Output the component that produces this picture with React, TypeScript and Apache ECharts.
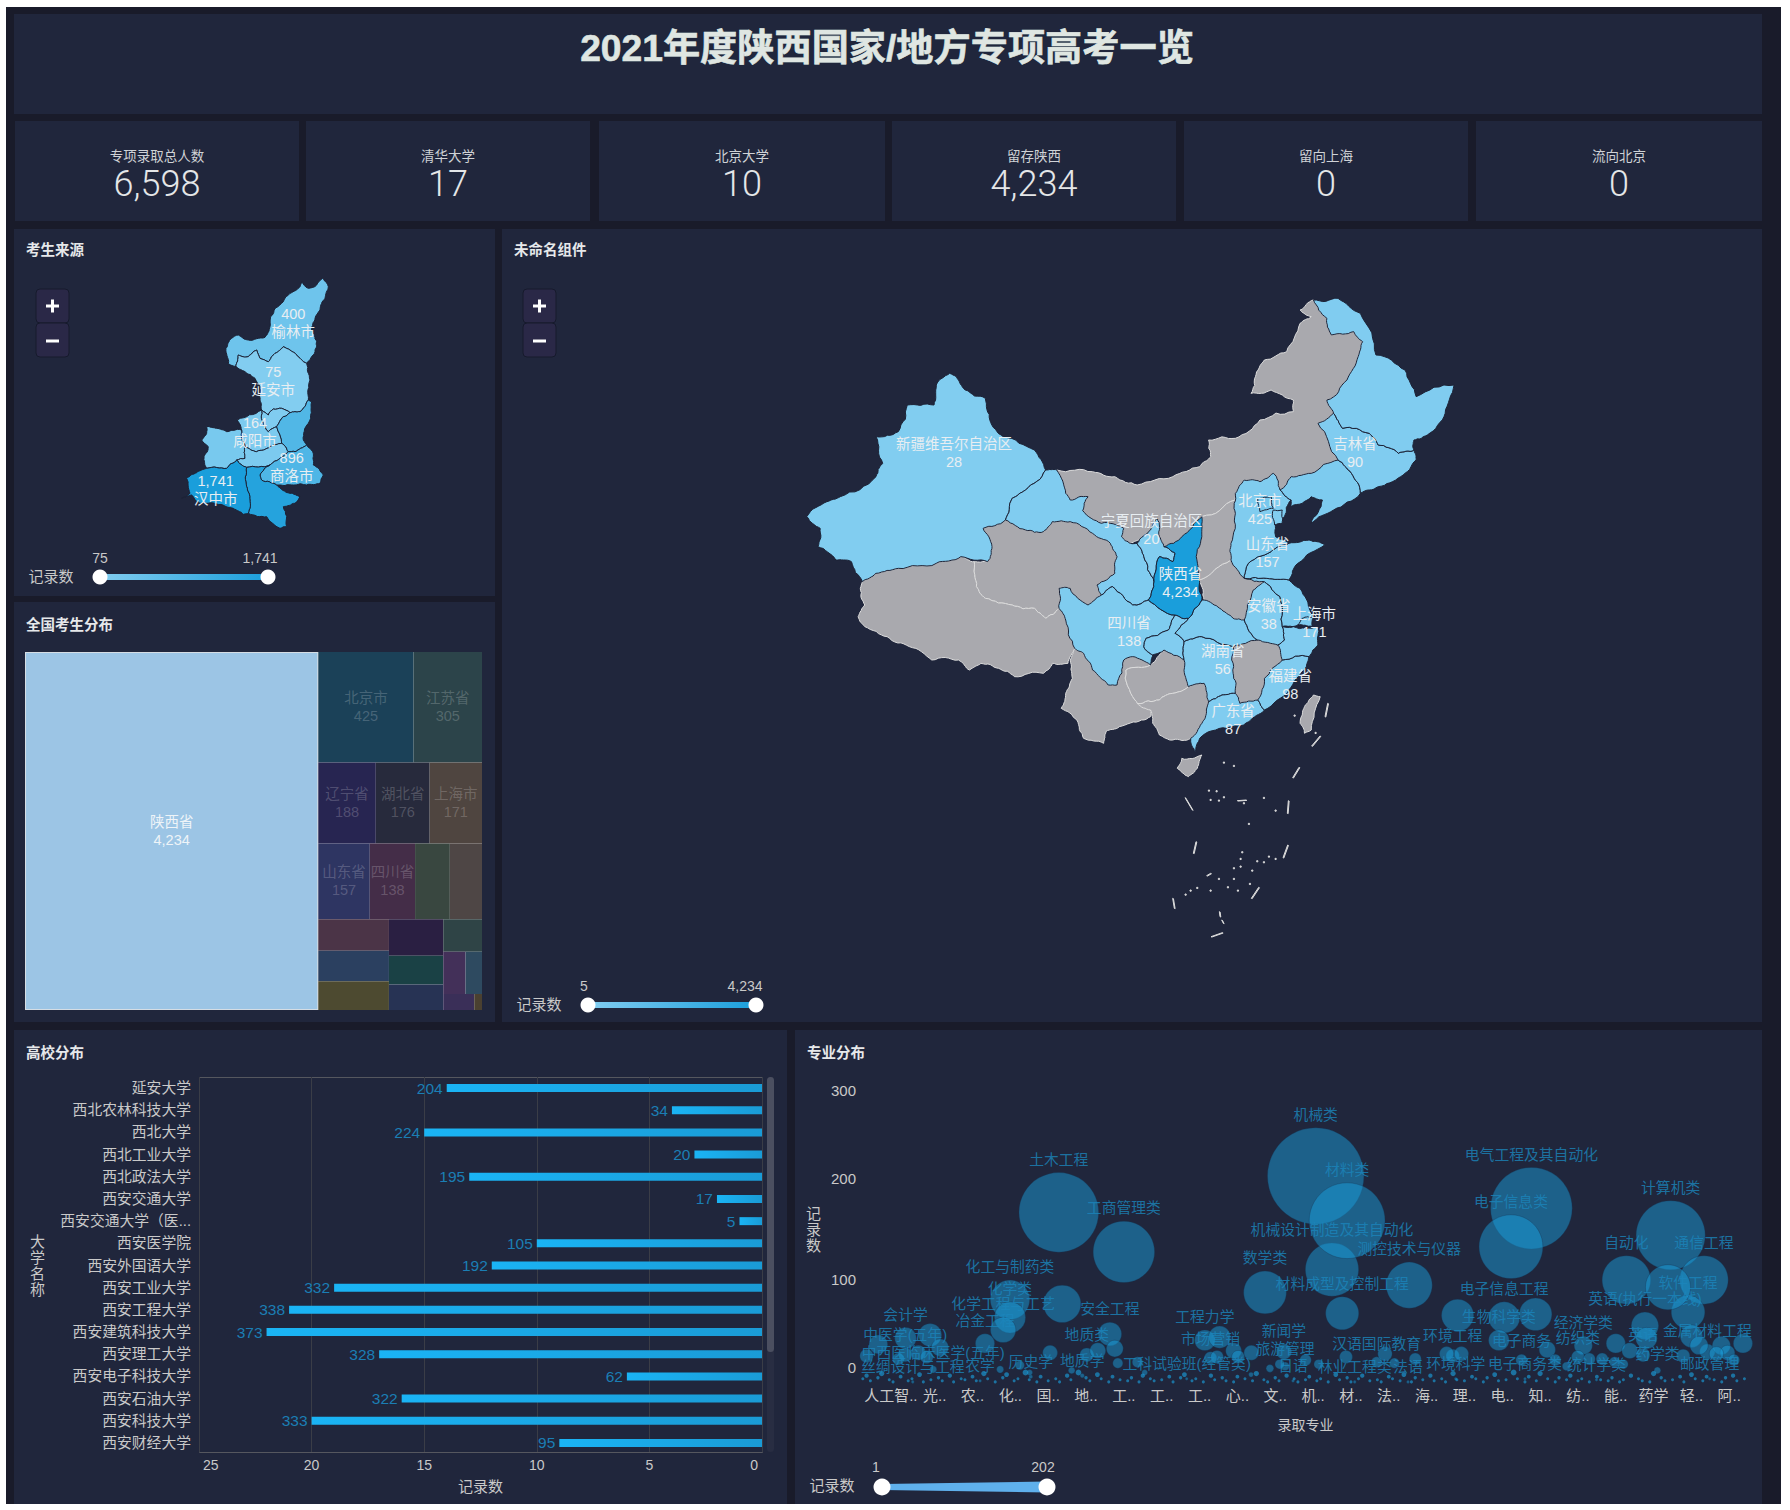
import React, { useEffect, useRef } from "react";
import * as echarts from "echarts";

const FONT = '"Liberation Sans","Noto Sans CJK SC",sans-serif';
const PANEL = "#20263c";
const DARK = "#191b2a";

const statLabels = ["专项录取总人数", "清华大学", "北京大学", "留存陕西", "留向上海", "流向北京"];
const statValues = ["6,598", "17", "10", "4,234", "0", "0"];

const universities = ["延安大学", "西北农林科技大学", "西北大学", "西北工业大学", "西北政法大学", "西安交通大学", "西安交通大学（医...", "西安医学院", "西安外国语大学", "西安工业大学", "西安工程大学", "西安建筑科技大学", "西安理工大学", "西安电子科技大学", "西安石油大学", "西安科技大学", "西安财经大学"];
const uniBars = [14, 4, 15, 3, 13, 2, 1, 10, 12, 19, 21, 22, 17, 6, 16, 20, 9];
const uniLabels = [204, 34, 224, 20, 195, 17, 5, 105, 192, 332, 338, 373, 328, 62, 322, 333, 95];

const treeNames = ["陕西省", "北京市", "江苏省", "辽宁省", "湖北省", "上海市", "山东省", "四川省", "河北省", "福建省", "吉林省", "广东省", "黑龙江省", "甘肃省", "重庆市", "湖南省", "浙江省", "安徽省", "新疆维吾尔自治区", "宁夏回族自治区", "天津市"];
const treeValues = [4234, 425, 305, 188, 176, 171, 157, 138, 106, 98, 90, 87, 82, 80, 63, 56, 51, 38, 28, 20, 5];
const treeColors = ["#9cc5e5", "#1b4158", "#2c444a", "#272551", "#272a3c", "#4f4540", "#2e3562", "#442d48", "#394740", "#4e4645", "#4b3447", "#2b4060", "#4d4a30", "#2a1f42", "#1a4145", "#273354", "#2f4446", "#433059", "#2e4a60", "#3a2f58", "#4a4030"];
const treeLabelled = 8;

const chinaValues: [string, number][] = [["陕西", 4234], ["北京", 425], ["江苏", 305], ["辽宁", 188], ["湖北", 176], ["上海", 171], ["山东", 157], ["四川", 138], ["河北", 106], ["福建", 98], ["吉林", 90], ["广东", 87], ["黑龙江", 82], ["甘肃", 80], ["重庆", 63], ["湖南", 56], ["浙江", 51], ["安徽", 38], ["新疆", 28], ["宁夏", 20], ["天津", 5]];
const chinaLabels: Record<string, [string, number, number]> = {
  新疆: ["新疆维吾尔自治区", 390, 520], 吉林: ["吉林省", 1288, 520], 北京: ["北京市", 1075, 690], 宁夏: ["宁夏回族自治区", 832, 750],
  山东: ["山东省", 1092, 820], 陕西: ["陕西省", 897, 910], 安徽: ["安徽省", 1095, 1005], 上海: ["上海市", 1197, 1030],
  四川: ["四川省", 782, 1055], 湖南: ["湖南省", 992, 1140], 福建: ["福建省", 1143, 1215], 广东: ["广东省", 1015, 1320],
};

const shaanxiValues: [string, number][] = [["榆林市", 400], ["延安市", 75], ["铜川市", 110], ["咸阳市", 164], ["宝鸡市", 230], ["西安市", 170], ["渭南市", 860], ["商洛市", 896], ["安康市", 1560], ["汉中市", 1741]];
const shaanxiLabels: Record<string, [number, number]> = { 榆林市: [880, 278], 延安市: [820, 453], 咸阳市: [765, 605], 商洛市: [875, 710], 汉中市: [647, 780] };

// outlines (crop pixel units)
const shaanxiRings: Record<string, number[]> = {
  榆林市: [905,155,925,175,950,165,968,145,985,170,975,205,960,240,945,265,935,300,950,335,945,365,920,400,890,375,870,360,850,350,825,370,805,395,780,385,770,360,745,380,715,375,708,410,685,400,678,355,695,325,715,315,745,330,795,322,810,290,812,260,850,215,870,190,900,170],
  延安市: [708,410,715,375,745,380,770,360,780,385,805,395,825,370,850,350,870,360,890,375,920,400,930,450,925,510,900,545,870,548,845,535,820,537,805,555,785,540,780,510,780,470,765,445,735,425],
  铜川市: [785,540,805,555,820,537,845,535,870,548,850,560,830,590,805,605,790,580],
  咸阳市: [712,570,785,540,790,580,805,605,830,590,840,615,845,640,810,650,770,665,735,650,725,600],
  宝鸡市: [620,590,650,595,680,605,712,598,725,600,735,650,735,685,710,690,680,715,620,715,612,680,625,650,605,630,620,610],
  西安市: [735,685,735,650,770,665,810,650,845,640,865,665,840,685,810,705,740,712,710,690],
  渭南市: [935,515,925,580,910,630,920,645,885,665,865,665,845,640,840,615,830,590,850,560,870,548,900,545,925,510],
  商洛市: [865,665,885,665,920,645,938,665,940,705,970,735,960,760,920,765,880,765,830,765,785,750,780,735,810,705,840,685],
  安康市: [740,712,810,705,780,735,785,750,830,765,870,790,900,800,885,820,850,830,860,890,840,895,800,860,745,850,750,810,740,770],
  汉中市: [620,715,680,715,710,690,740,712,740,770,750,810,745,850,730,853,700,835,650,822,600,820,575,795,545,805,570,790,560,745,590,728],
};

const chinaGrey: Record<string, number[]> = {
  内蒙古: [620,570,700,575,750,590,800,615,880,590,940,560,965,530,960,480,1020,475,1075,420,1150,395,1150,360,1100,330,1055,340,1065,290,1085,240,1135,215,1165,130,1190,110,1165,90,1195,60,1225,115,1235,165,1285,155,1305,185,1295,230,1270,300,1225,360,1240,400,1205,430,1250,540,1190,580,1145,590,1120,630,1105,580,1075,605,1040,600,1020,640,1020,660,945,710,900,770,860,800,850,770,845,715,830,750,810,780,785,790,765,770,770,745,720,730,678,692,690,650,650,660,640,640],
  青海: [455,745,505,720,550,750,590,755,610,725,650,725,700,760,740,790,755,830,750,880,710,915,720,945,690,975,650,925,625,925,625,985,595,1015,570,985,520,975,460,955,440,920,435,845,465,845,475,800],
  西藏: [185,905,215,880,265,865,350,850,405,830,435,845,440,920,460,955,520,975,570,985,595,1015,625,985,640,1020,660,1105,665,1105,645,1150,610,1150,590,1180,525,1190,490,1165,450,1150,425,1170,400,1140,340,1140,290,1100,240,1070,190,1040,175,1010,190,975,180,925],
  云南: [660,1105,680,1120,700,1170,735,1215,755,1215,770,1140,790,1130,830,1155,775,1170,795,1260,830,1290,830,1310,810,1320,760,1340,730,1355,725,1390,680,1375,665,1320,630,1285,640,1240,655,1195,650,1140],
  贵州: [775,1170,830,1155,860,1110,905,1140,910,1200,915,1220,880,1240,850,1260,800,1270,795,1260],
  广西: [800,1270,850,1260,880,1240,915,1220,950,1210,960,1265,955,1290,945,1330,920,1375,880,1380,850,1365,835,1330,830,1290],
  江西: [1015,1100,1070,1080,1115,1095,1125,1140,1085,1195,1070,1260,1030,1270,1020,1240,1015,1180],
  河南: [940,900,1010,840,1040,895,1085,905,1060,930,1040,1020,1015,1015,985,985,950,960],
  山西: [945,710,1020,660,1020,700,1010,790,1010,840,940,900,935,850,945,770],
  海南: [890,1465,900,1435,945,1425,935,1465,915,1490],
  台湾: [1195,1245,1210,1250,1190,1350,1175,1360,1165,1330,1175,1280],
};
const chinaBlue: Record<string, number[]> = {
  新疆: [60,710,105,665,135,650,215,590,230,550,215,470,265,455,285,375,345,375,350,315,380,280,395,290,415,330,460,355,470,420,500,470,570,510,595,570,550,630,520,655,505,720,455,745,475,800,465,845,405,830,350,850,265,865,215,880,185,905,160,845,125,840,85,800,90,745],
  甘肃: [595,570,620,570,640,640,650,660,690,650,678,692,720,730,770,745,765,770,785,790,800,790,815,830,838,905,825,960,790,975,745,920,720,945,710,915,750,880,755,830,740,790,700,760,650,725,610,725,590,755,550,750,505,720,520,655,550,630],
  四川: [625,925,650,925,690,975,720,945,745,920,790,975,825,960,885,1005,870,1050,820,1075,815,1100,835,1125,830,1155,790,1130,770,1140,755,1215,735,1215,700,1170,680,1120,660,1105,640,1020,625,985],
  重庆: [885,1005,915,1015,885,1060,905,1085,905,1140,860,1110,835,1125,815,1100,820,1075,870,1050],
  湖南: [905,1085,945,1070,1015,1100,1015,1180,1020,1240,990,1245,960,1265,950,1210,915,1220,910,1200,905,1140],
  湖北: [915,1015,945,960,950,960,985,985,1015,1015,1040,1020,1070,1080,1015,1100,945,1070,905,1085,885,1060],
  广东: [960,1265,990,1245,1020,1240,1030,1270,1070,1260,1085,1290,1050,1325,1000,1345,940,1375,930,1415,920,1385,920,1375,945,1330,955,1290],
  福建: [1125,1140,1185,1130,1175,1170,1140,1230,1085,1290,1070,1260,1085,1195],
  浙江: [1125,1040,1150,1040,1205,1040,1205,1095,1185,1130,1125,1140,1115,1095,1130,1080],
  安徽: [1060,930,1085,905,1120,950,1125,1040,1130,1080,1115,1095,1070,1080,1040,1020],
  江苏: [1040,895,1090,895,1140,900,1180,960,1195,1010,1160,1035,1125,1040,1120,950,1085,905],
  上海: [1170,1015,1195,1012,1192,1040,1160,1035],
  山东: [1045,860,1100,815,1140,790,1185,780,1220,795,1160,850,1140,900,1090,895,1040,895],
  河北: [1020,640,1040,600,1075,605,1105,580,1120,630,1145,660,1130,710,1110,730,1110,770,1140,790,1100,815,1045,860,1040,895,1010,840,1010,790,1020,700],
  北京: [1070,655,1100,650,1105,685,1075,695],
  天津: [1105,690,1125,690,1125,730,1108,735],
  宁夏: [800,790,830,750,845,715,850,770,860,800,885,820,880,845,850,830,838,905,815,830],
  陕西: [945,710,945,770,935,850,940,900,945,960,915,1015,885,1005,825,960,838,905,850,830,880,845,885,820,860,800,900,770],
  辽宁: [1145,590,1190,580,1250,540,1280,580,1300,640,1240,690,1190,730,1215,660,1190,650,1145,680,1145,660,1120,630],
  吉林: [1205,430,1240,400,1260,445,1320,460,1340,495,1385,520,1420,510,1425,540,1390,590,1340,620,1300,640,1280,580,1250,540],
  黑龙江: [1195,60,1250,55,1300,100,1335,225,1400,270,1425,350,1510,315,1490,400,1450,465,1420,480,1420,510,1385,520,1340,495,1320,460,1260,445,1240,400,1225,360,1270,300,1295,230,1305,185,1285,155,1235,165,1225,115],
};
const seaDashes = [983,190,975,230, 960,288,935,318, 897,382,878,413, 865,482,862,520, 863,615,849,653, 776,742,754,775, 667,878,633,890, 518,775,523,805, 588,605,580,640, 555,473,577,510, 620,707,632,700, 658,815,660,830, 665,840,670,850, 712,482,738,480];
const seaIslets = [670,366,700,376,625,450,648,452,630,478,655,480,670,470,730,488,790,472,825,510,745,550,725,635,720,655,720,678,700,683,755,690,770,662,790,665,805,648,825,655,655,715,700,715,590,742,570,750,555,762,630,750,682,740,712,750,748,730,882,225,945,277];

const xTickLabels = ["人工智..", "光..", "农..", "化..", "国..", "地..", "工..", "工..", "工..", "心..", "文..", "机..", "材..", "法..", "海..", "理..", "电..", "知..", "纺..", "能..", "药学", "轻..", "阿.."];
const yTickPos = [17, 101, 199, 283];
const yTickText = ["0", "100", "200", "300"];

const majors: [string, number, number][] = [
  ["土木工程", 52.8, 166], ["工商管理类", 70, 128], ["化工与制药类", 39.9, 82], ["化学类", 39.9, 65], ["化学工程与工艺", 38.1, 53], ["冶金工程", 33.3, 40], ["", 53.7, 78], ["安全工程", 66.3, 49], ["地质类", 60.2, 29], ["", 63.1, 33], ["", 67.6, 35], ["", 68.4, 21], ["地质学", 59, 9], ["历史学", 45.4, 8], ["", 50.5, 31], ["", 42.5, 19], ["", 37.3, 15], ["工程力学", 91.4, 43], ["", 95.3, 46], ["市场营销", 92.9, 26], ["", 94.6, 27], ["", 99, 33], ["", 100.2, 27], ["", 103.7, 31], ["数学类", 107.3, 89],
  ["机械设计制造及其自动化", 125, 111], ["机械类", 120.7, 201], ["材料类", 129, 158], ["测控技术与仪器", 145.4, 96], ["材料成型及控制工程", 127.7, 69], ["电气工程及其自动化", 177.7, 170], ["电子信息类", 172.3, 133], ["计算机类", 214.5, 144], ["自动化", 202.8, 101], ["通信工程", 223.3, 101], ["软件工程", 219.1, 70], ["英语(执行一本线)", 207.7, 57], ["", 213.8, 94], ["电子信息工程", 170.5, 65], ["生物科学类", 169.1, 43], ["", 178.8, 68], ["", 158.2, 67], ["环境工程", 156.9, 28], ["", 159.2, 30], ["", 155.3, 30], ["电子商务", 175.1, 24], ["", 181.9, 34], ["经济学类", 191.4, 38], ["纺织类", 190, 27], ["", 200, 40], ["", 203.7, 33], ["英语", 207.2, 29], ["", 208.1, 45], ["金属材料工程", 224.2, 32], ["", 220, 47], ["", 222, 38], ["", 227.9, 38], ["", 229.5, 31], ["", 233.6, 40], ["", 226.6, 30], ["", 231.2, 24],
  ["药学类", 211, 14], ["", 217.8, 28], ["邮政管理", 224.8, 6], ["统计学类", 194.9, 5], ["", 193, 25], ["", 196.4, 25], ["", 199.7, 22], ["", 202, 20], ["环境科学", 157.7, 6], ["电子商务类", 176, 6], ["", 184, 24], ["", 187, 18], ["林业工程类", 131, 3], ["法语", 145.1, 3], ["汉语国际教育", 136.8, 22], ["", 128.7, 27], ["", 139, 30], ["", 141.5, 21], ["", 147, 25], ["", 121.5, 20], ["", 118, 24], ["新闻学", 112.3, 32], ["旅游管理", 112.6, 18], ["日语", 114.7, 4], ["工科试验班(经管类)", 86.6, 6], ["", 73.6, 22], ["", 108.6, 16], ["", 111.2, 20], ["", 103.6, 10],
  ["会计学", 12.3, 45], ["", 18.8, 48], ["", 5.1, 39], ["", 21.4, 36], ["", 15.7, 31], ["", 10.4, 25], ["", 2, 28], ["", 17.9, 27], ["中医学(五年)", 12.2, 29], ["中西医临床医学(五年)", 19.6, 15], ["丝绸设计与工程", 14.2, 3], ["农学", 32, 4], ["", 75.5, 12], ["", 56.2, 14], ["", 45.1, 12],
];
const tinyDots: [number, number][] = [
  [1,6],[2,9],[3,4],[5,7],[6,11],[8,5],[9,3],[11,8],[13,4],[14,6],[16,10],[17,3],[19,5],[21,7],[22,4],[24,9],[25,3],[27,6],[28,5],[30,8],[31,4],[33,11],[34,6],[36,3],[38,7],[39,10],[41,4],[42,6],[44,12],[45,5],[47,3],[48,8],[50,4],[52,6],[53,3],[55,9],[56,5],[58,12],[60,7],[61,4],[63,10],[64,6],[66,3],[67,8],[69,5],[71,4],[72,7],[74,3],[75,9],[77,6],[78,4],[80,5],[82,8],[83,3],[85,7],[86,10],[88,4],[89,6],[91,3],[93,9],[94,5],[96,7],[97,4],[99,3],[100,8],[102,6],[104,4],[105,11],[107,5],[108,3],[110,7],[111,4],[113,9],[115,6],[116,3],[118,5],[119,8],[121,4],[122,6],[124,3],[126,10],[127,5],[129,7],[130,3],[132,6],[133,9],[135,4],[137,5],[138,3],[140,8],[141,6],[143,4],[144,10],[146,3],[147,7],[149,5],[151,9],[152,4],[154,6],[155,3],[157,11],[158,5],[160,4],[162,8],[163,6],[165,3],[166,7],[168,10],[169,4],[171,5],[173,12],[174,6],[176,3],[177,8],[179,4],[180,11],[182,6],[184,3],[185,7],[187,5],[188,9],[190,4],[191,6],[193,3],[195,8],[196,5],[198,4],[199,7],[201,3],[202,5],[204,9],[206,6],[207,4],[209,3],[210,11],[212,7],[213,4],[215,5],[217,8],[218,3],[220,10],[221,6],[223,4],[224,8],[226,5],[228,3],[229,7],[231,9],[232,4],[234,6],
];

// helpers
const p4 = (x: number, y: number) => [780 + x / 2.24, 280 + y / 3];
const p5 = (x: number, y: number) => [1000 + x / 3, 640 + y / 3];
const p2 = (x: number, y: number) => [x / 3, 230 + y / 3];
const wiggle = (a: number) => {
  const s = Math.sin(a * 12.9898) * 43758.5453;
  return s - Math.floor(s) - 0.5;
};
const edgeDetail = (a: number[], b: number[], depth: number): number[][] => {
  const len = Math.hypot(b[0] - a[0], b[1] - a[1]);
  if (depth === 0 || len < 2.5) return [];
  const k = wiggle(a[0] * 3.1 + a[1] * 7.7 + b[0] * 5.3 + b[1] * 2.9) * 0.2;
  const m = [(a[0] + b[0]) / 2 - ((b[1] - a[1]) * k), (a[1] + b[1]) / 2 + ((b[0] - a[0]) * k)];
  return [...edgeDetail(a, m, depth - 1), m, ...edgeDetail(m, b, depth - 1)];
};
const ring = (flat: number[], f: (x: number, y: number) => number[]) => {
  const pts: number[][] = [];
  for (let i = 0; i + 1 < flat.length; i += 2) pts.push(f(flat[i], flat[i + 1]));
  const out: number[][] = [];
  pts.forEach((a, i) => {
    const b = pts[(i + 1) % pts.length];
    const swap = a[0] > b[0] || (a[0] === b[0] && a[1] > b[1]);
    const detail = swap ? edgeDetail(b, a, 3).reverse() : edgeDetail(a, b, 3);
    out.push(a, ...detail);
  });
  out.push(out[0]);
  return out;
};
const feature = (name: string, rings: number[][][], cp?: number[]) => ({
  type: "Feature",
  properties: { name, ...(cp ? { cp } : {}) },
  geometry: { type: "MultiPolygon", coordinates: rings.map((r) => [r]) },
});
const bbox = (features: any[]) => {
  let a = 1e9, b = 1e9, c = -1e9, d = -1e9;
  features.forEach((f) => f.geometry.coordinates.forEach((poly: number[][][]) => poly[0].forEach(([x, y]) => {
    a = Math.min(a, x); b = Math.min(b, y); c = Math.max(c, x); d = Math.max(d, y);
  })));
  return { left: a, top: b, width: c - a, height: d - b };
};
const seaRings = () => {
  const rings: number[][][] = [];
  for (let i = 0; i < seaDashes.length; i += 4) {
    const [x1, y1] = p5(seaDashes[i], seaDashes[i + 1]);
    const [x2, y2] = p5(seaDashes[i + 2], seaDashes[i + 3]);
    rings.push([[x1, y1], [x2, y2], [x2 + 0.8, y2 + 0.4], [x1 + 0.8, y1 + 0.4], [x1, y1]]);
  }
  for (let i = 0; i < seaIslets.length; i += 2) {
    const [x, y] = p5(seaIslets[i], seaIslets[i + 1]);
    rings.push([[x, y], [x + 1.2, y], [x + 1.2, y + 1.2], [x, y + 1.2], [x, y]]);
  }
  return rings;
};

const txt = (text: string, x: number, y: number, font: string, fill: string, align = "center", extra: any = {}) => ({
  type: "text",
  style: { text, x, y, font, fill, textAlign: align, textVerticalAlign: "middle", ...extra },
});
const rect = (x: number, y: number, w: number, h: number, fill: string, r = 0, stroke?: string) => ({
  type: "rect",
  shape: { x, y, width: w, height: h, r },
  style: { fill, stroke, lineWidth: stroke ? 1 : 0 },
});
const F14 = `14px ${FONT}`;
const F15 = `15px ${FONT}`;
const zoomCtl = (x: number) => [
  rect(x, 289, 33, 34, "#2a2847", 4, "#161a2c"),
  rect(x, 323, 33, 34, "#2a2847", 4, "#161a2c"),
  rect(x + 10, 304.5, 13, 3, "#fff"), rect(x + 15, 299.5, 3, 13, "#fff"),
  rect(x + 10, 339.5, 13, 3, "#fff"),
];
const legend = (nameX: number, lo: string, hi: string, x1: number, x2: number, y: number, labelY: number, hiX: number, loX: number) => [
  txt("记录数", nameX, y - 1, F15, "#c9c9c9"),
  txt(lo, loX, labelY, F14, "#c9c9c9"),
  txt(hi, hiX, labelY, F14, "#c9c9c9"),
  { type: "rect", shape: { x: x1, y: y - 3, width: x2 - x1, height: 6 }, style: { fill: new echarts.graphic.LinearGradient(0, 0, 1, 0, [{ offset: 0, color: "#82cdf0" }, { offset: 1, color: "#1a9edb" }]) } },
  { type: "circle", shape: { cx: x1, cy: y, r: 7.5 }, style: { fill: "#fff" } },
  { type: "circle", shape: { cx: x2, cy: y, r: 7.5 }, style: { fill: "#fff" } },
];

export default function App() {
  const ref = useRef<HTMLDivElement>(null);
  useEffect(() => {
    document.body.style.margin = "0";
    document.body.style.background = "#fff";
    const chinaFeatures = [
      ...Object.entries(chinaGrey).map(([n, r]) => feature(n, [ring(r, p4)])),
      feature("南海诸岛", seaRings()),
      ...Object.entries(chinaBlue).map(([n, r]) => feature(n, [ring(r, p4)], chinaLabels[n] ? p4(chinaLabels[n][1], chinaLabels[n][2]) : undefined)),
    ];
    const shaanxiFeatures = Object.entries(shaanxiRings).map(([n, r]) => feature(n, [ring(r, p2)], shaanxiLabels[n] ? p2(shaanxiLabels[n][0], shaanxiLabels[n][1]) : undefined));
    echarts.registerMap("chinaTraced", { type: "FeatureCollection", features: chinaFeatures } as any);
    echarts.registerMap("shaanxiTraced", { type: "FeatureCollection", features: shaanxiFeatures } as any);
    const identity = { project: (p: number[]) => p, unproject: (p: number[]) => p };

    const chart = echarts.init(ref.current!, null, { renderer: "svg" });
    const statX = [15, 306, 599, 892, 1184, 1476];
    const statW = [284, 284, 286, 284, 284, 286];
    const graphics: any[] = [
      rect(6, 7, 1775, 1497, DARK),
      rect(14, 14, 1748, 100, PANEL),
      ...statX.map((x, i) => rect(x, 121, statW[i], 100, PANEL)),
      rect(14, 229, 481, 367, PANEL),
      rect(14, 602, 481, 420, PANEL),
      rect(502, 229, 1260, 793, PANEL),
      rect(14, 1030, 773, 474, PANEL),
      rect(795, 1030, 967, 474, PANEL),
      txt("2021年度陕西国家/地方专项高考一览", 887, 48, `bold 37.2px ${FONT}`, "#dfe6e2", "center", { stroke: "#dfe6e2", lineWidth: 0.6 }),
      ...statX.flatMap((x, i) => [
        txt(statLabels[i], x + statW[i] / 2, 156, `13.5px ${FONT}`, "#cfd2d6"),
        txt(statValues[i], x + statW[i] / 2, 184, `300 36px Roboto,${FONT}`, "#e4e6e8"),
      ]),
      txt("考生来源", 26, 250, `bold 14.5px ${FONT}`, "#e6e8ea", "left"),
      txt("全国考生分布", 26, 625, `bold 14.5px ${FONT}`, "#e6e8ea", "left"),
      txt("未命名组件", 514, 250, `bold 14.5px ${FONT}`, "#e6e8ea", "left"),
      txt("高校分布", 26, 1053, `bold 14.5px ${FONT}`, "#e6e8ea", "left"),
      txt("专业分布", 807, 1053, `bold 14.5px ${FONT}`, "#e6e8ea", "left"),
      ...zoomCtl(36),
      ...zoomCtl(523),
      ...legend(51, "75", "1,741", 100, 268, 577, 558, 260, 100),
      ...legend(539, "5", "4,234", 588, 756, 1005, 986, 745, 584),
      txt("记录数", 832, 1485, F15, "#c9c9c9"),
      txt("1", 876, 1467, F14, "#c9c9c9"),
      txt("202", 1043, 1467, F14, "#c9c9c9"),
      { type: "polygon", shape: { points: [[882, 1484], [1047, 1481.5], [1047, 1492.5], [882, 1490]] }, style: { fill: "#5fb0ec" } },
      { type: "circle", shape: { cx: 882, cy: 1487, r: 8.5 }, style: { fill: "#fff" } },
      { type: "circle", shape: { cx: 1047, cy: 1487, r: 8.5 }, style: { fill: "#fff" } },
      rect(767, 1077, 7, 375, "#282d42", 3.5),
      rect(767, 1077, 7, 275, "#4b4f60", 3.5),
      { type: "rect", shape: { x: 199.5, y: 1077.5, width: 563, height: 375 }, style: { fill: "transparent", stroke: "#55575f", lineWidth: 1 } },
    ];

    const mapLabel = { show: false, color: "#e8eef2", fontFamily: FONT, fontSize: 14.5, lineHeight: 18 };
    const axisText = { color: "#c9c9c9", fontFamily: FONT, fontSize: 14 };
    const axisText15 = { ...axisText, fontSize: 15 };

    chart.setOption({
      animation: false,
      backgroundColor: "transparent",
      textStyle: { fontFamily: FONT },
      graphic: { elements: graphics },
      visualMap: [
        { type: "continuous", show: false, seriesIndex: 0, min: 75, max: 1741, inRange: { color: ["#82cdf0", "#1a9edb"] } },
        { type: "continuous", show: false, seriesIndex: 1, min: 5, max: 4234, inRange: { color: ["#82cdf0", "#1a9edb"] } },
      ],
      grid: [
        { left: 199, top: 1077, width: 563, height: 375 },
        { left: 199, top: 1077, width: 563, height: 377 },
        { left: 859, top: 1073, width: 893, height: 312 },
      ],
      xAxis: [
        { gridIndex: 0, type: "value", inverse: true, min: 0, max: 25, interval: 5, name: "记录数", nameLocation: "middle", nameGap: 27, nameTextStyle: axisText15, axisLine: { show: false }, axisTick: { show: false }, splitLine: { show: true, lineStyle: { color: "#3a3d47", width: 1 } }, axisLabel: { ...axisText, margin: 6, alignMinLabel: "right", alignMaxLabel: "left", padding: [0, 4, 0, 4] } },
        { gridIndex: 1, type: "value", inverse: true, min: 0, max: 25, show: false },
        {
          gridIndex: 2, type: "value", min: 0, max: 236, interval: 10, name: "录取专业", nameLocation: "middle", nameGap: 33, nameTextStyle: axisText,
          axisLine: { show: false }, axisTick: { show: false }, splitLine: { show: false },
          axisLabel: {
            ...axisText15, margin: 3,
            rich: { first: { ...axisText15, padding: [0, 12, 0, 0] } },
            formatter: (v: number) => (v === 10 ? `{first|${xTickLabels[0]}}` : v > 0 && v % 10 === 0 ? xTickLabels[v / 10 - 1] || "" : ""),
          },
        },
      ],
      yAxis: [
        { gridIndex: 0, type: "value", show: false, min: 0, max: 1 },
        {
          gridIndex: 1, type: "category", inverse: true, data: universities, name: "大\n学\n名\n称", nameLocation: "middle", nameRotate: 0, nameGap: 154, nameTextStyle: { ...axisText15, lineHeight: 16 },
          axisLine: { show: false }, axisTick: { show: false }, axisLabel: { ...axisText, fontSize: 14.8, margin: 8, interval: 0 },
        },
        {
          gridIndex: 2, type: "value", min: 0, max: 300, name: "记\n录\n数", nameLocation: "middle", nameRotate: 0, nameGap: 38, nameTextStyle: { ...axisText15, lineHeight: 16 },
          axisLine: { show: false }, axisTick: { show: false }, splitLine: { show: false },
          axisLabel: { ...axisText15, margin: 3, customValues: yTickPos, formatter: (v: number) => yTickText[yTickPos.indexOf(v)] ?? "" },
        },
      ],
      series: [
        {
          type: "map", map: "shaanxiTraced", projection: identity, roam: false, silent: true, aspectScale: 1, ...bbox(shaanxiFeatures),
          itemStyle: { areaColor: "#a9a9ae", borderColor: "#1c2236", borderWidth: 1 },
          label: mapLabel, emphasis: { disabled: true }, select: { disabled: true },
          data: shaanxiValues.map(([name, value]) => ({
            name, value,
            label: { show: !!shaanxiLabels[name], formatter: `${value.toLocaleString("en-US")}\n${name}` },
          })),
        },
        {
          type: "map", map: "chinaTraced", projection: identity, roam: false, silent: true, aspectScale: 1, ...bbox(chinaFeatures),
          itemStyle: { areaColor: "#a9a9ae", borderColor: "#dcdcdc", borderWidth: 1 },
          label: mapLabel, emphasis: { disabled: true }, select: { disabled: true },
          data: chinaValues.map(([name, value]) => ({
            name, value,
            itemStyle: { borderColor: "#1c2236", borderWidth: 1 },
            label: { show: !!chinaLabels[name], formatter: chinaLabels[name] ? `${chinaLabels[name][0]}\n${value.toLocaleString("en-US")}` : "" },
          })),
        },
        {
          type: "treemap", left: 25, top: 652, width: 457, height: 358, roam: false, nodeClick: false, silent: true,
          breadcrumb: { show: false },
          itemStyle: { borderWidth: 0, gapWidth: 0 },
          label: { show: false, fontFamily: FONT, fontSize: 14.5, lineHeight: 18, overflow: "none" },
          data: treeNames.map((name, i) => ({
            name, value: treeValues[i],
            itemStyle: { color: treeColors[i], ...(i === 0 ? { borderColor: "#d5dde4", borderWidth: 1 } : {}) },
            label: { show: i < treeLabelled, overflow: "none", color: i === 0 ? "#eef4f8" : "rgba(255,255,255,0.2)", formatter: `${name}\n${treeValues[i].toLocaleString("en-US")}` },
          })),
        },
        {
          type: "bar", xAxisIndex: 1, yAxisIndex: 1, barWidth: 8, silent: true,
          itemStyle: { color: new echarts.graphic.LinearGradient(0, 0, 1, 0, [{ offset: 0, color: "#1ab4f5" }, { offset: 1, color: "#1a9bd6" }]) },
          label: { show: true, position: "left", distance: 4, color: "#1b7eb4", fontFamily: FONT, fontSize: 15.5, formatter: (p: any) => String(uniLabels[p.dataIndex]) },
          data: uniBars,
        },
        {
          type: "scatter", xAxisIndex: 2, yAxisIndex: 2, silent: true, clip: false,
          symbolSize: (v: number[]) => Math.max(3, v[1] * 0.48),
          itemStyle: { color: "rgba(26,158,219,0.62)", borderColor: "rgba(22,50,80,0.4)", borderWidth: 1 },
          label: { show: true, position: "top", distance: 5, color: "#1b86bc", fontFamily: FONT, fontSize: 14.8, formatter: "{b}" },
          data: [
            ...majors.map(([name, x, y]) => ({ name, value: [x, y] })),
            ...tinyDots.map(([x, y]) => ({ name: "", value: [x, y], itemStyle: { borderWidth: 0, color: "rgba(26,158,219,0.8)" } })),
          ],
        },
      ],
    } as any);
    return () => chart.dispose();
  }, []);
  return <div ref={ref} style={{ width: 1790, height: 1510, position: "absolute", left: 0, top: 0 }} />;
}
